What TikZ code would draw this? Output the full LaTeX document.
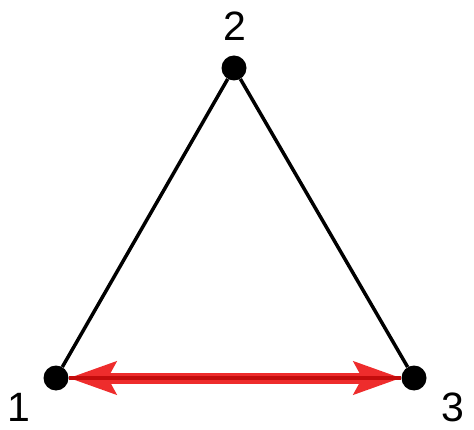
\documentclass[tikz,border=0pt]{standalone}
\usepackage{fontspec}
\setmainfont{Liberation Sans}
\usepackage{tikz}
\usetikzlibrary{arrows.meta}
\usetikzlibrary{positioning}

\definecolor{arrowred}{RGB}{238,44,44}
\definecolor{stripered}{RGB}{196,12,12}

\begin{document}
\begin{tikzpicture}[x=1pt,y=-1pt,
	vertex/.style={circle,fill=black,inner sep=0pt,minimum size=25pt},
	numlabel/.style={font=\fontsize{41}{41}\selectfont,inner sep=0pt},
	edgeline/.style={line width=3.5pt},
	swaparrow/.style={arrowred,line width=11pt,{Stealth[length=47pt,width=32pt,inset=8pt]}-{Stealth[length=47pt,width=32pt,inset=8pt]}}]
	\useasboundingbox[fill=white] (0,0) rectangle (474,430);
	\node[vertex] (V1) at (56,378) {};
	\node[vertex] (V2) at (234,68) {};
	\node[vertex] (V3) at (414,378) {};
	\node[numlabel] (L1) at (19,407) {1};
	\node[numlabel] (L2) at (235,26) {2};
	\node[numlabel] (L3) at (453,407) {3};
	\draw[edgeline] (V1) -- (V2);
	\draw[edgeline] (V2) -- (V3);
	\draw[swaparrow] (V1) -- (V3);
	\draw[stripered,line width=4pt] (V1) -- (V3);
\end{tikzpicture}
\end{document}
